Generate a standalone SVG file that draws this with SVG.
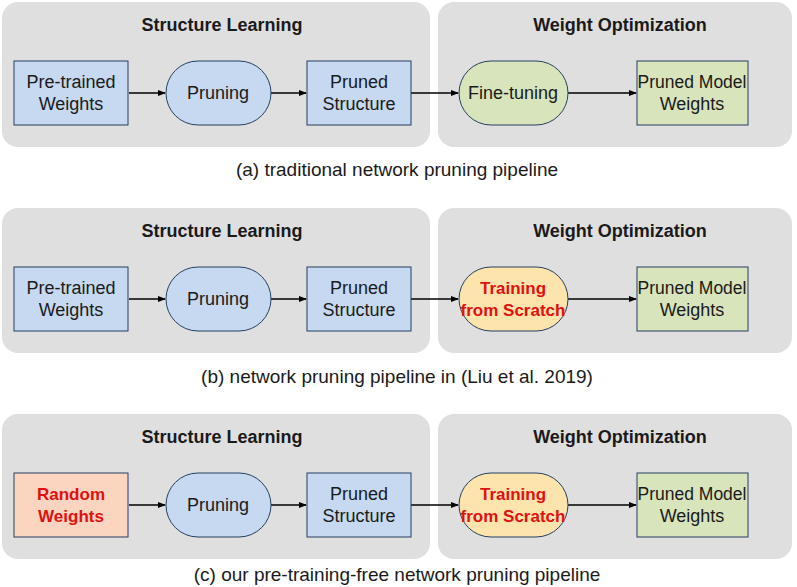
<svg xmlns="http://www.w3.org/2000/svg" width="797" height="587" viewBox="0 0 797 587">
<defs>
<style>
.bg{fill:#e0dfe0}
.t{font-family:"Liberation Sans",Arial,sans-serif;font-size:18px;fill:#1a1a1a;text-anchor:middle}
.h{font-weight:bold}
.cap{font-size:19px}
.red{fill:#e01010;font-weight:bold;font-size:17px}
.pm{font-size:17.5px}
.b{fill:#c6d9f1;stroke:#243f60;stroke-width:1}
.g{fill:#d8e4bc;stroke:#243f60;stroke-width:1}
.o{fill:#fde4ad;stroke:#243f60;stroke-width:1}
.r{fill:#fcd5c0;stroke:#243f60;stroke-width:1}
.c{stroke:#000;stroke-width:1.3;fill:none;marker-end:url(#a)}
</style>
<marker id="a" markerWidth="8" markerHeight="8" refX="7" refY="4" orient="auto" markerUnits="userSpaceOnUse"><path d="M0,1 L8,4 L0,7 Z" fill="#000"/></marker>
</defs>
<g id="panels">
<rect class="bg" x="2" y="2" width="428" height="145" rx="16"/>
<rect class="bg" x="438" y="2" width="354" height="145" rx="16"/>
<rect class="bg" x="2" y="208" width="428" height="145" rx="16"/>
<rect class="bg" x="438" y="208" width="354" height="145" rx="16"/>
<rect class="bg" x="2" y="414" width="428" height="145" rx="16"/>
<rect class="bg" x="438" y="414" width="354" height="145" rx="16"/>
<text class="t h" x="222" y="31">Structure Learning</text>
<text class="t h" x="620" y="31">Weight Optimization</text>
<text class="t h" x="222" y="237">Structure Learning</text>
<text class="t h" x="620" y="237">Weight Optimization</text>
<text class="t h" x="222" y="443">Structure Learning</text>
<text class="t h" x="620" y="443">Weight Optimization</text>
</g>
<g id="connectors">
<path class="c" d="M129,93 H165"/><path class="c" d="M271,93 H306"/><path class="c" d="M411,93 H458"/><path class="c" d="M568,93 H636"/>
<path class="c" d="M129,299 H165"/><path class="c" d="M271,299 H306"/><path class="c" d="M411,299 H458"/><path class="c" d="M568,299 H636"/>
<path class="c" d="M129,505 H165"/><path class="c" d="M271,505 H306"/><path class="c" d="M411,505 H458"/><path class="c" d="M568,505 H636"/>
</g>
<g id="a1"><rect class="b" x="14" y="61" width="114" height="64"/><text class="t" x="71" y="88">Pre-trained</text><text class="t" x="71" y="110">Weights</text></g>
<g id="a2"><rect class="b" x="166" y="61" width="105" height="64" rx="32"/><text class="t" x="218" y="99">Pruning</text></g>
<g id="a3"><rect class="b" x="307" y="61" width="104" height="64"/><text class="t" x="359" y="88">Pruned</text><text class="t" x="359" y="110">Structure</text></g>
<g id="a4"><rect class="g" x="459" y="61" width="109" height="64" rx="32"/><text class="t" x="513" y="99">Fine-tuning</text></g>
<g id="a5"><rect class="g" x="637" y="61" width="111" height="64"/><text class="t pm" x="692" y="88">Pruned Model</text><text class="t" x="692" y="110">Weights</text></g>
<text class="t cap" x="397" y="176">(a) traditional network pruning pipeline</text>
<g id="b1"><rect class="b" x="14" y="267" width="114" height="64"/><text class="t" x="71" y="294">Pre-trained</text><text class="t" x="71" y="316">Weights</text></g>
<g id="b2"><rect class="b" x="166" y="267" width="105" height="64" rx="32"/><text class="t" x="218" y="305">Pruning</text></g>
<g id="b3"><rect class="b" x="307" y="267" width="104" height="64"/><text class="t" x="359" y="294">Pruned</text><text class="t" x="359" y="316">Structure</text></g>
<g id="b4"><rect class="o" x="459" y="267" width="109" height="64" rx="32"/><text class="t red" x="513" y="294">Training</text><text class="t red" x="513" y="316">from Scratch</text></g>
<g id="b5"><rect class="g" x="637" y="267" width="111" height="64"/><text class="t pm" x="692" y="294">Pruned Model</text><text class="t" x="692" y="316">Weights</text></g>
<text class="t cap" x="397" y="383">(b) network pruning pipeline in (Liu et al. 2019)</text>
<g id="c1"><rect class="r" x="14" y="473" width="114" height="64"/><text class="t red" x="71" y="500">Random</text><text class="t red" x="71" y="522">Weights</text></g>
<g id="c2"><rect class="b" x="166" y="473" width="105" height="64" rx="32"/><text class="t" x="218" y="511">Pruning</text></g>
<g id="c3"><rect class="b" x="307" y="473" width="104" height="64"/><text class="t" x="359" y="500">Pruned</text><text class="t" x="359" y="522">Structure</text></g>
<g id="c4"><rect class="o" x="459" y="473" width="109" height="64" rx="32"/><text class="t red" x="513" y="500">Training</text><text class="t red" x="513" y="522">from Scratch</text></g>
<g id="c5"><rect class="g" x="637" y="473" width="111" height="64"/><text class="t pm" x="692" y="500">Pruned Model</text><text class="t" x="692" y="522">Weights</text></g>
<text class="t cap" x="397" y="581">(c) our pre-training-free network pruning pipeline</text>
</svg>
